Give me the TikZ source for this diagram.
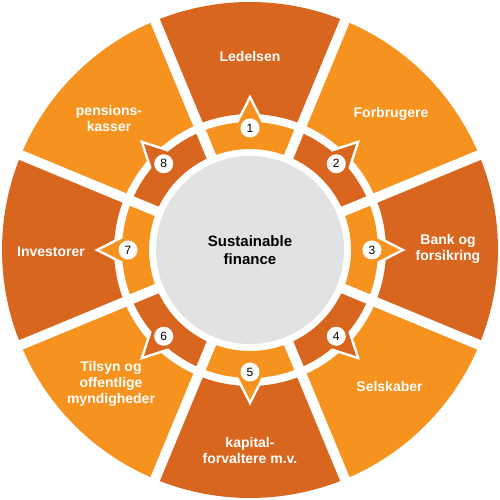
\documentclass[tikz,border=0pt]{standalone}
\usepackage{fontspec}
\setmainfont{Liberation Sans}
\definecolor{dk}{RGB}{217,102,31}
\definecolor{lt}{RGB}{246,147,31}
\definecolor{cg}{RGB}{225,226,228}
\tikzset{
  lbl/.style={text=white,font=\fontsize{14}{16}\selectfont\bfseries,align=center,inner sep=0pt},
  numc/.style={circle,fill=white,minimum size=19pt,inner sep=0pt,font=\fontsize{12}{12}\selectfont},
  ctr/.style={text=black,font=\fontsize{15}{18}\selectfont\bfseries,align=center,inner sep=0pt}
}
\begin{document}
\begin{tikzpicture}[x=1pt,y=1pt]
\useasboundingbox (0,0) rectangle (500,500);
\fill[white] (0,0) rectangle (500,500);
\begin{scope}[shift={(250,250)}]
% outer segments
\foreach \a/\oc in {90/dk,45/lt,0/dk,-45/lt,-90/dk,-135/lt,180/dk,135/lt}{
  \fill[\oc] (\a-22.5:136) arc[start angle=\a-22.5,end angle=\a+22.5,radius=136]
    -- (\a+22.5:248) arc[start angle=\a+22.5,end angle=\a-22.5,radius=248] -- cycle;
}
% triangles with white outline
\foreach \a/\ic in {90/lt,45/dk,0/lt,-45/dk,-90/lt,-135/dk,180/lt,135/dk}{
  \filldraw[fill=\ic,draw=white,line width=5pt,line join=miter] (\a-7.86:119.1) -- (\a:150) -- (\a+7.86:119.1) -- cycle;
}
% inner ring
\foreach \a/\ic in {90/lt,45/dk,0/lt,-45/dk,-90/lt,-135/dk,180/lt,135/dk}{
  \fill[\ic] (\a-22.5:101) arc[start angle=\a-22.5,end angle=\a+22.5,radius=101]
    -- (\a+22.5:128) arc[start angle=\a+22.5,end angle=\a-22.5,radius=128] -- cycle;
  \fill[\ic] (\a-7.86:119.1) -- (\a:150) -- (\a+7.86:119.1) -- cycle;
}
% gaps
\foreach \a in {22.5,67.5,...,337.5}{
  \draw[white,line width=10pt] (0,0) -- (\a:262);
}
\fill[cg] (0,0) circle (94);
% numbers
\foreach \n/\a in {1/90,2/45,3/0,4/-45,5/-90,6/-135,7/180,8/135}{
  \node[numc] (n\n) at (\a:122) {\n};
}
\end{scope}
\node[lbl] (l1) at (250,443) {Ledelsen};
\node[lbl] (l2) at (391,386) {Forbrugere};
\node[lbl] (l3) at (448,251) {Bank og\\forsikring};
\node[lbl] (l4) at (389.5,114) {Selskaber};
\node[lbl] (l5) at (250,50) {kapital-\\forvaltere m.v.};
\node[lbl] (l6) at (111,116) {Tilsyn og\\offentlige\\myndigheder};
\node[lbl] (l7) at (51,248) {Investorer};
\node[lbl] (l8) at (109,381) {pensions-\\kasser};
\node[ctr] (c) at (250,250) {Sustainable\\finance};
\end{tikzpicture}
\end{document}
